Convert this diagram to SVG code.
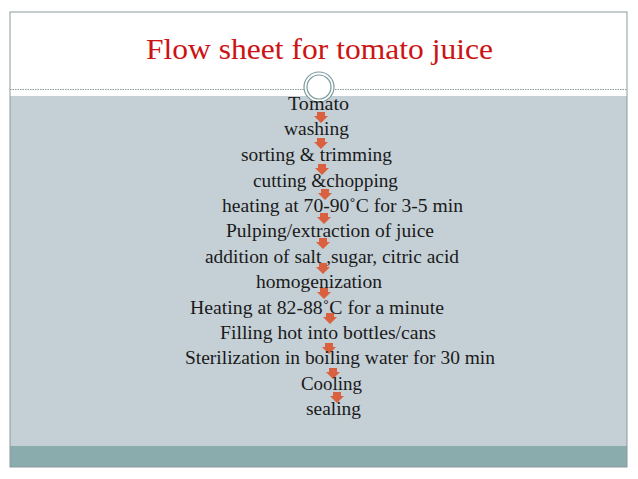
<svg xmlns="http://www.w3.org/2000/svg" xmlns:xlink="http://www.w3.org/1999/xlink" width="638" height="479" viewBox="0 0 638 479">
<style>
.t{font-family:"Liberation Serif","Times New Roman",serif;font-size:19.5px;fill:#1a1a1a}
.title{font-family:"Liberation Serif","Times New Roman",serif;font-size:30px;fill:#cc1414}
.arr{fill:#d9613f}
</style>
<defs>
<path id="a" d="M-4,0 H4 V4 H7 L0,11 L-7,4 H-4 Z"/>
</defs>
<rect x="0" y="0" width="638" height="479" fill="#ffffff"/>
<rect x="10" y="96" width="617" height="350" fill="#c5d0d6"/>
<rect x="10" y="446" width="617" height="21" fill="#8aacad"/>
<rect x="10" y="12" width="617" height="455" fill="none" stroke="#8a9a9e" stroke-width="1"/>
<line x1="10" y1="89.5" x2="627" y2="89.5" stroke="#8d9a9c" stroke-width="1" stroke-dasharray="1.5,1"/>
<circle cx="319" cy="87" r="15" fill="#ffffff" stroke="#7d9a9e" stroke-width="1.2"/>
<circle cx="319" cy="87" r="12" fill="#ffffff" stroke="#7d9a9e" stroke-width="1.2"/>
<text class="title" x="146" y="59" textLength="347" lengthAdjust="spacingAndGlyphs">Flow sheet for tomato juice</text>
<g id="connectors" class="arr">
<use xlink:href="#a" x="321" y="112"/>
<use xlink:href="#a" x="321" y="138"/>
<use xlink:href="#a" x="322" y="164"/>
<use xlink:href="#a" x="325" y="189"/>
<use xlink:href="#a" x="324" y="213"/>
<use xlink:href="#a" x="323" y="238"/>
<use xlink:href="#a" x="323" y="263"/>
<use xlink:href="#a" x="324" y="288"/>
<use xlink:href="#a" x="330" y="313"/>
<use xlink:href="#a" x="329" y="343"/>
<use xlink:href="#a" x="333" y="368"/>
<use xlink:href="#a" x="337" y="392"/>
</g>
<g id="n1"><text class="t" x="288" y="110" textLength="61" lengthAdjust="spacingAndGlyphs">Tomato</text></g>
<g id="n2"><text class="t" x="284" y="135" textLength="65" lengthAdjust="spacingAndGlyphs">washing</text></g>
<g id="n3"><text class="t" x="241" y="161" textLength="151" lengthAdjust="spacingAndGlyphs">sorting &amp; trimming</text></g>
<g id="n4"><text class="t" x="253" y="187" textLength="145" lengthAdjust="spacingAndGlyphs">cutting &amp;chopping</text></g>
<g id="n5"><text class="t" x="222" y="212" textLength="241" lengthAdjust="spacingAndGlyphs">heating at 70-90˚C for 3-5 min</text></g>
<g id="n6"><text class="t" x="226" y="237" textLength="208" lengthAdjust="spacingAndGlyphs">Pulping/extraction of juice</text></g>
<g id="n7"><text class="t" x="205" y="263" textLength="254" lengthAdjust="spacingAndGlyphs">addition of salt ,sugar, citric acid</text></g>
<g id="n8"><text class="t" x="256" y="288" textLength="126" lengthAdjust="spacingAndGlyphs">homogenization</text></g>
<g id="n9"><text class="t" x="190" y="314" textLength="254" lengthAdjust="spacingAndGlyphs">Heating at 82-88˚C for a minute</text></g>
<g id="n10"><text class="t" x="220" y="339" textLength="216" lengthAdjust="spacingAndGlyphs">Filling hot into bottles/cans</text></g>
<g id="n11"><text class="t" x="185" y="364" textLength="310" lengthAdjust="spacingAndGlyphs">Sterilization in boiling water for 30 min</text></g>
<g id="n12"><text class="t" x="301" y="390" textLength="61" lengthAdjust="spacingAndGlyphs">Cooling</text></g>
<g id="n13"><text class="t" x="306" y="415" textLength="55" lengthAdjust="spacingAndGlyphs">sealing</text></g>
</svg>
